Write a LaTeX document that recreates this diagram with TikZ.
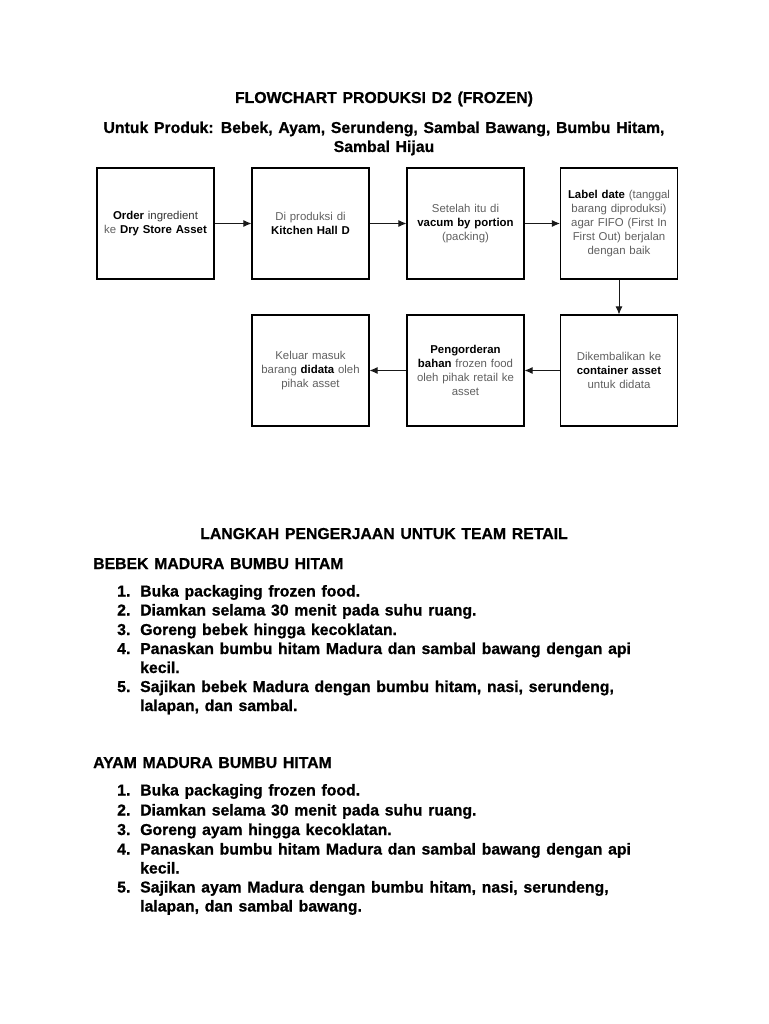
\documentclass[tikz,border=0pt]{standalone}
\usepackage{fontspec}
\setmainfont{Liberation Sans}[BoldFeatures={FakeBold=0.8},WordSpace=1.3]
\newfontfamily\boxfont{Liberation Sans}
\usetikzlibrary{arrows.meta}
\definecolor{boxgray}{HTML}{606060}
\begin{document}
\begin{tikzpicture}[x=1pt,y=-1pt,
  stepbox/.style={draw=black,line width=1.1pt,minimum width=117pt,minimum height=111pt,inner sep=2pt,
    align=center,text width=112pt,font=\boxfont\fontsize{11.4}{14}\selectfont,text=boxgray},
  flow/.style={-{Latex[length=8pt,width=7pt]},line width=0.9pt,draw=black!90},
  doc/.style={anchor=base west,inner sep=0pt,font=\fontsize{15.8}{19}\selectfont\bfseries},
  doccenter/.style={anchor=base,inner sep=0pt,font=\fontsize{15.8}{19}\selectfont\bfseries}]
\useasboundingbox[fill=white] (0,0) rectangle (768,1024);
\newcommand{\bk}[1]{\textcolor{black}{\bfseries #1}}
% titles
\node[doccenter] (title) at (384,103) {FLOWCHART PRODUKSI D2 (FROZEN)};
\node[doccenter] (sub1) at (384,133) {Untuk Produk: Bebek, Ayam, Serundeng, Sambal Bawang, Bumbu Hitam,};
\node[doccenter] (sub2) at (384,152) {Sambal Hijau};
% flowchart boxes
\node[stepbox] (b1) at (155.5,223.5) {\bk{Order} \textcolor{black!80}{ingredient}\\ ke \bk{Dry Store Asset}};
\node[stepbox] (b2) at (310.5,223.5) {Di produksi di\\ \bk{Kitchen Hall D}};
\node[stepbox] (b3) at (465.5,223.5) {Setelah itu di\\ \bk{vacum by portion}\\ (packing)};
\node[stepbox] (b4) at (619,223.5) {\bk{Label date} (tanggal\\ barang diproduksi)\\ agar FIFO (First In\\ First Out) berjalan\\ dengan baik};
\node[stepbox] (b5) at (619,370.5) {Dikembalikan ke\\ \bk{container asset}\\ untuk didata};
\node[stepbox] (b6) at (465.5,370.5) {\bk{Pengorderan}\\ \bk{bahan} frozen food\\ oleh pihak retail ke\\ asset};
\node[stepbox] (b7) at (310.5,370.5) {Keluar masuk\\ barang \bk{didata} oleh\\ pihak asset};
\draw[flow] (b1) -- (b2);
\draw[flow] (b2) -- (b3);
\draw[flow] (b3) -- (b4);
\draw[flow] (b4) -- (b5);
\draw[flow] (b5) -- (b6);
\draw[flow] (b6) -- (b7);
% steps
\node[doccenter] (langkah) at (384,539) {LANGKAH PENGERJAAN UNTUK TEAM RETAIL};
\node[doc] (bebek) at (93,569) {BEBEK MADURA BUMBU HITAM};
\node[doc] (bn1) at (117,596.5) {1.};
\node[doc] (bt1) at (140,596.5) {Buka packaging frozen food.};
\node[doc] (bn2) at (117,615.5) {2.};
\node[doc] (bt2) at (140,615.5) {Diamkan selama 30 menit pada suhu ruang.};
\node[doc] (bn3) at (117,635) {3.};
\node[doc] (bt3) at (140,635) {Goreng bebek hingga kecoklatan.};
\node[doc] (bn4) at (117,654) {4.};
\node[doc] (bt4) at (140,654) {Panaskan bumbu hitam Madura dan sambal bawang dengan api};
\node[doc] (bt4b) at (140,673) {kecil.};
\node[doc] (bn5) at (117,692) {5.};
\node[doc] (bt5) at (140,692) {Sajikan bebek Madura dengan bumbu hitam, nasi, serundeng,};
\node[doc] (bt5b) at (140,711) {lalapan, dan sambal.};
\node[doc] (ayam) at (93,768) {AYAM MADURA BUMBU HITAM};
\node[doc] (an1) at (117,795.5) {1.};
\node[doc] (at1) at (140,795.5) {Buka packaging frozen food.};
\node[doc] (an2) at (117,815.5) {2.};
\node[doc] (at2) at (140,815.5) {Diamkan selama 30 menit pada suhu ruang.};
\node[doc] (an3) at (117,835) {3.};
\node[doc] (at3) at (140,835) {Goreng ayam hingga kecoklatan.};
\node[doc] (an4) at (117,854.5) {4.};
\node[doc] (at4) at (140,854.5) {Panaskan bumbu hitam Madura dan sambal bawang dengan api};
\node[doc] (at4b) at (140,873.5) {kecil.};
\node[doc] (an5) at (117,892.5) {5.};
\node[doc] (at5) at (140,892.5) {Sajikan ayam Madura dengan bumbu hitam, nasi, serundeng,};
\node[doc] (at5b) at (140,911.5) {lalapan, dan sambal bawang.};
\end{tikzpicture}
\end{document}
